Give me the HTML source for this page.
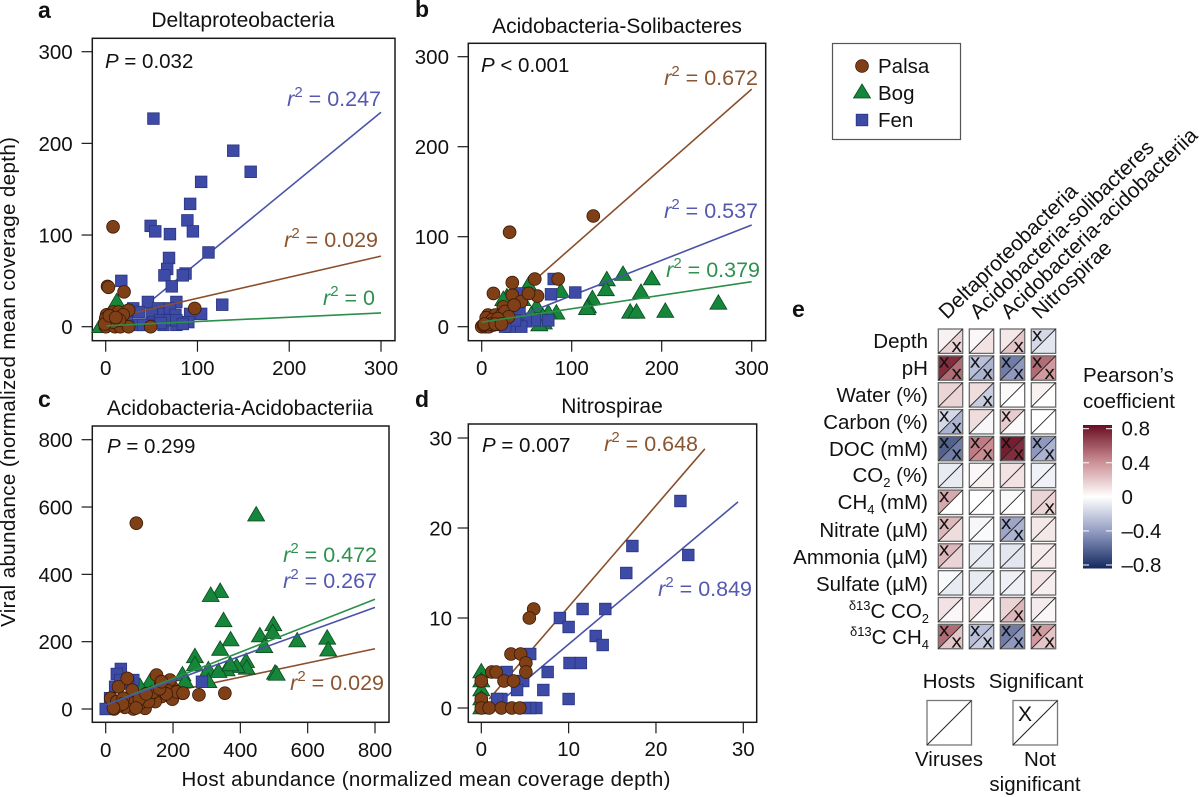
<!DOCTYPE html>
<html lang="en">
<head>
<meta charset="utf-8">
<title>Viral and host abundance</title>
<style>
html,body{margin:0;padding:0;background:#fff;}
svg{display:block;font-family:"Liberation Sans",Arial,sans-serif;font-size:20.5px;fill:#111;}
.ttl{font-size:21px;text-anchor:middle;}
.let{font-size:23px;font-weight:bold;}
.tk{font-size:20.5px;}
.sup{font-size:13px;}
.r2{font-size:21.5px;}
.r2 .sup{font-size:15px;}
.blue{fill:#5558b0;}.brown{fill:#8a5530;}.green{fill:#2f9150;}
</style>
</head>
<body>
<svg id="figure" xmlns="http://www.w3.org/2000/svg" width="1200" height="797" viewBox="0 0 1200 797">
<rect x="0" y="0" width="1200" height="797" fill="#fff"/>

<text class="let" x="38" y="18">a</text>
<text class="let" x="415" y="17">b</text>
<text class="let" x="38" y="407">c</text>
<text class="let" x="415" y="407">d</text>
<text class="let" x="792" y="317">e</text>

<text class="ttl" x="243" y="27">Deltaproteobacteria</text>
<text class="ttl" x="617" y="33">Acidobacteria-Solibacteres</text>
<text class="ttl" x="240" y="415">Acidobacteria-Acidobacteriia</text>
<text class="ttl" x="612" y="413">Nitrospirae</text>

<text x="15" y="382" transform="rotate(-90 15 382)" text-anchor="middle" font-size="20.5" textLength="490">Viral abundance (normalized mean coverage depth)</text>
<text x="426" y="786" text-anchor="middle" font-size="20.5" textLength="489">Host abundance (normalized mean coverage depth)</text>

<g id="plots"></g>

<g>
<text x="105" y="68"><tspan font-style="italic">P</tspan> = 0.032</text>
<text x="481" y="72"><tspan font-style="italic">P</tspan> &lt; 0.001</text>
<text x="107" y="453"><tspan font-style="italic">P</tspan> = 0.299</text>
<text x="482" y="452"><tspan font-style="italic">P</tspan> = 0.007</text>
</g>

<g text-anchor="end" class="r2">
<text class="blue" x="381" y="106"><tspan font-style="italic">r</tspan><tspan class="sup" dy="-9">2</tspan><tspan dy="9"> = 0.247</tspan></text>
<text class="brown" x="378" y="247"><tspan font-style="italic">r</tspan><tspan class="sup" dy="-9">2</tspan><tspan dy="9"> = 0.029</tspan></text>
<text class="green" x="375" y="305"><tspan font-style="italic">r</tspan><tspan class="sup" dy="-9">2</tspan><tspan dy="9"> = 0</tspan></text>
<text class="brown" x="758" y="85"><tspan font-style="italic">r</tspan><tspan class="sup" dy="-9">2</tspan><tspan dy="9"> = 0.672</tspan></text>
<text class="blue" x="758" y="218"><tspan font-style="italic">r</tspan><tspan class="sup" dy="-9">2</tspan><tspan dy="9"> = 0.537</tspan></text>
<text class="green" x="760" y="277"><tspan font-style="italic">r</tspan><tspan class="sup" dy="-9">2</tspan><tspan dy="9"> = 0.379</tspan></text>
<text class="green" x="377" y="562"><tspan font-style="italic">r</tspan><tspan class="sup" dy="-9">2</tspan><tspan dy="9"> = 0.472</tspan></text>
<text class="blue" x="377" y="588"><tspan font-style="italic">r</tspan><tspan class="sup" dy="-9">2</tspan><tspan dy="9"> = 0.267</tspan></text>
<text class="brown" x="384" y="690"><tspan font-style="italic">r</tspan><tspan class="sup" dy="-9">2</tspan><tspan dy="9"> = 0.029</tspan></text>
<text class="brown" x="698" y="451"><tspan font-style="italic">r</tspan><tspan class="sup" dy="-9">2</tspan><tspan dy="9"> = 0.648</tspan></text>
<text class="blue" x="752" y="596"><tspan font-style="italic">r</tspan><tspan class="sup" dy="-9">2</tspan><tspan dy="9"> = 0.849</tspan></text>
</g>

<g>
<rect x="832.5" y="43.5" width="128" height="96" fill="#fff" stroke="#555" stroke-width="1.2"/>
<circle cx="862" cy="66" r="6.4" fill="#7f3f17" stroke="#3a1a05" stroke-width="0.8"/>
<polygon points="862,84 870.5,98 853.5,98" fill="#16863a" stroke="#0a4a20" stroke-width="0.8"/>
<rect x="856.2" y="114.2" width="11.6" height="11.6" fill="#3d4aa6" stroke="#2a3580" stroke-width="0.8"/>
<text x="878" y="73">Palsa</text>
<text x="878" y="100">Bog</text>
<text x="878" y="127">Fen</text>
</g>

<g font-size="21">
<text transform="translate(947 320) rotate(-44)">Deltaproteobacteria</text>
<text transform="translate(978 320) rotate(-44)">Acidobacteria-solibacteres</text>
<text transform="translate(1009 320) rotate(-44)">Acidobacteria-acidobacteriia</text>
<text transform="translate(1040 320) rotate(-44)">Nitrospirae</text>
</g>

<g text-anchor="end">
<text x="928" y="348">Depth</text>
<text x="928" y="375">pH</text>
<text x="928" y="402">Water (%)</text>
<text x="928" y="429">Carbon (%)</text>
<text x="928" y="456">DOC (mM)</text>
<text x="928" y="482">CO<tspan class="sup" font-size="13" dy="5">2</tspan><tspan dy="-5"> (%)</tspan></text>
<text x="928" y="509">CH<tspan class="sup" dy="5">4</tspan><tspan dy="-5"> (mM)</tspan></text>
<text x="928" y="537">Nitrate (µM)</text>
<text x="928" y="564">Ammonia (µM)</text>
<text x="928" y="591">Sulfate (µM)</text>
<text x="929" y="618"><tspan class="sup" dy="-8">δ13</tspan><tspan dy="8">C CO</tspan><tspan class="sup" dy="5">2</tspan></text>
<text x="929" y="644"><tspan class="sup" dy="-8">δ13</tspan><tspan dy="8">C CH</tspan><tspan class="sup" dy="5">4</tspan></text>
</g>

<g id="heatmap"></g>

<text x="1083" y="382">Pearson’s</text>
<text x="1083" y="408">coefficient</text>
<defs>
<linearGradient id="cbGrad" x1="0" y1="0" x2="0" y2="1">
<stop offset="0" stop-color="#6a0d22"/>
<stop offset="0.25" stop-color="#c98c91"/>
<stop offset="0.5" stop-color="#ffffff"/>
<stop offset="0.75" stop-color="#8f99c0"/>
<stop offset="1" stop-color="#12295f"/>
</linearGradient>
</defs>
<g id="colorbar">
<rect x="1083" y="425" width="29" height="143.5" fill="url(#cbGrad)"/>
</g>

<g>
<text x="949" y="688" text-anchor="middle">Hosts</text>
<text x="1036" y="688" text-anchor="middle">Significant</text>
<rect x="927" y="700.5" width="44.5" height="44.5" fill="#fff" stroke="#777" stroke-width="1.3"/>
<line x1="927" y1="745" x2="971.5" y2="700.5" stroke="#222" stroke-width="1"/>
<rect x="1013" y="700.5" width="44.5" height="44.5" fill="#fff" stroke="#777" stroke-width="1.3"/>
<line x1="1013" y1="745" x2="1057.5" y2="700.5" stroke="#222" stroke-width="1"/>
<text x="1025" y="721" text-anchor="middle" font-size="21">X</text>
<text x="949" y="766" text-anchor="middle">Viruses</text>
<text x="1040" y="766" text-anchor="middle">Not</text>
<text x="1035" y="791" text-anchor="middle">significant</text>
</g>
</svg>

<script>
// ----- Panel a data -----
const aFenX = [52,139,158,104,92,89,95,49,54,70,112,69,67,64,87,84,72,17,127,46,77,104,92,30,36,57,63,70,76,50,90,77,63,52,32,37,59,70,77,23,45,60,84,41];
const aFenY = [227,192,169,158,134,116,104,110,104,101,81,75,63,56,58,56,44,50,24,27,27,14,14,20,16,20,14,20,13,14,5,2,2,5,2,2,7,7,7,7,2,4,3,2];
const aBogX = [12,-6,2,8];
const aBogY = [27,0,4,10];
const aPalsaX = [8,2,3,20,97,49,8,14,25,19,1,0,2,5,0,10,16,25,8,15,-1,4,11];
const aPalsaY = [109,44,43,38,20,0,16,16,18,13,13,9,5,2,0,0,0,0,5,7,3,12,10];
const aFenLineX = [15,300];
const aFenLineY = [0,234];
const aPalsaLineX = [0,300];
const aPalsaLineY = [8,77];
const aBogLineX = [1,300];
const aBogLineY = [1,15];

// ----- Panel b data -----
const bPalsaX = [31,124,85,59,34,13,34,62,44,52,24,7,15,22,6,0,4,8,13,20,26,2,10,17,30,36,5,12,18,10,3,15,22];
const bPalsaY = [105,123,53,53,49,37,35,34,28,37,22,13,13,13,6,0,0,0,2,7,17,2,4,3,11,24,10,8,9,3,3,3,3];
const bBogX = [263,204,165,172,189,177,157,139,138,123,118,117,88,83,74,69,52,61,28,68,39,24,55,45,64];
const bBogY = [26,17,16,16,53,38,58,52,41,31,22,20,39,15,15,4,46,22,33,11,20,30,13,30,2];
const bFenX = [104,80,77,74,59,49,40,44,31,42,42,37,20,26];
const bFenY = [38,53,36,7,7,6,2,0,0,37,18,7,2,0];
const bPalsaLineX = [0,300];
const bPalsaLineY = [0,264];
const bFenLineX = [17,300];
const bFenLineY = [2,113];
const bBogLineX = [0,300];
const bBogLineY = [5,50];

// ----- Panel c data -----
const cPalsaX = [91,354,277,198,228,196,191,164,151,166,147,117,82,102,77,57,25,15,38,64,79,132,181,211,33,52,127,40,100,140,180,120,160,90,50,23,230,166];
const cPalsaY = [552,47,42,29,47,66,86,76,101,37,22,2,0,17,17,5,0,32,66,91,56,42,56,51,22,32,22,10,30,50,45,45,60,3,15,3,47,81];
const cBogX = [447,340,312,350,371,340,498,496,458,471,569,658,661,503,508,265,265,417,419,389,359,305,335,228,236,305,132,102,370];
const cBogY = [576,349,337,262,205,177,250,227,217,185,202,210,175,106,103,155,131,141,121,126,116,116,111,101,81,81,81,66,131];
const cFenX = [45,33,82,28,13,0,286,67,43];
const cFenY = [119,104,86,66,32,0,81,76,86];
const cBogLineX = [0,800];
const cBogLineY = [12,326];
const cFenLineX = [0,800];
const cFenLineY = [12,302];
const cPalsaLineX = [0,800];
const cPalsaLineY = [10,179];

// ----- Panel d data -----
const dFenX = [22.8,23.7,17.3,16.6,11.6,14.2,9,10,13.1,13.9,10.1,11.4,7.6,7.1,10,5.6,2.9,4.8,4.1,2.3,1.8,6.3,5.6,5];
const dFenY = [23,17,18,15,11,11,10,9,8,7,5,5,4,2,1,6,4,3,2,1,1,0,0,0];
const dBogX = [0,0,0,0,0];
const dBogY = [4,3,2,1,0];
const dPalsaX = [6,5.5,3.4,4.5,5.1,5.1,1.2,1.7,0,2.6,3.7,0,0,0.9,2.3,3.5,4.4];
const dPalsaY = [11,10,6,6,5,4,4,4,3,3,3,1,0,0,0,0,0];
const dPalsaLineX = [0.9,25.6];
const dPalsaLineY = [1,28.8];
const dFenLineX = [2.9,29.4];
const dFenLineY = [1.3,22.9];

// ----- Axis tick labels -----
const abTicks = [0,100,200,300];
const cTicks = [0,200,400,600,800];
const dTicks = [0,10,20,30];

// ----- Heatmap data: one row per environmental variable, one column per taxon -----
const hostCorr = [
 [0.05,0.03,0.08,-0.15],
 [0.7,-0.25,-0.5,0.5],
 [0.15,0.12,0.02,0.05],
 [-0.15,0.12,0.18,0],
 [-0.6,0.45,0.75,-0.4],
 [-0.08,0.03,0.1,-0.05],
 [0.3,0,-0.02,0.15],
 [0.25,-0.03,-0.35,0.08],
 [0.25,-0.08,-0.1,0.07],
 [-0.02,-0.08,-0.06,0.1],
 [0.1,0.1,0.15,0.07],
 [0.5,-0.25,-0.5,0.35]
];
const virusCorr = [
 [0.15,0.1,0.2,-0.1],
 [0.5,-0.3,-0.4,0.35],
 [0.15,-0.2,0,0],
 [-0.3,-0.03,0.02,0],
 [-0.5,0.4,0.7,-0.3],
 [-0.08,0.05,0.1,-0.05],
 [0,0,0,0.15],
 [0.12,-0.02,-0.3,0.08],
 [0.15,-0.08,-0.1,0.07],
 [-0.08,-0.08,-0.06,0.06],
 [0.03,0.02,0.25,0.03],
 [0.2,-0.2,-0.4,0.2]
];
const hostSig = [
 [0,0,0,1],[1,1,1,1],[0,0,0,0],[1,0,1,0],[1,1,1,1],[0,0,0,0],
 [1,0,0,0],[1,0,1,0],[1,0,0,0],[0,0,0,0],[0,0,0,0],[1,1,1,1]
];
const virusSig = [
 [1,0,1,0],[1,1,1,1],[0,1,0,0],[1,0,0,0],[1,1,1,1],[0,0,0,0],
 [0,0,0,1],[0,0,1,0],[0,0,0,0],[0,0,0,0],[0,0,1,0],[1,1,1,1]
];
const colorbarTicks = [0.8,0.4,0,-0.4,-0.8];

const NS = 'http://www.w3.org/2000/svg';
function make(parent, tag, attrs) {
  const e = document.createElementNS(NS, tag);
  for (const k in attrs) e.setAttribute(k, attrs[k]);
  parent.appendChild(e);
  return e;
}
function linear(d0, r0, d1, r1) {
  return function (v) { return r0 + (v - d0) * (r1 - r0) / (d1 - d0); };
}
const PALSA = { fill: '#7f3f17', edge: '#3a1a05', line: '#8a4f2a' };
const BOG = { fill: '#16863a', edge: '#0a4a20', line: '#2c8f4a' };
const FEN = { fill: '#3d4aa6', edge: '#2a3580', line: '#4a52a8' };

function drawCircles(g, xs, ys, sx, sy) {
  xs.forEach(function (x, i) {
    const m = make(g, 'circle', { cx: sx(x), cy: sy(ys[i]), r: 6.4, fill: PALSA.fill, stroke: PALSA.edge, 'stroke-width': 0.8 });
    
    
  });
}
function drawSquares(g, xs, ys, sx, sy) {
  xs.forEach(function (x, i) {
    const m = make(g, 'rect', { x: sx(x) - 5.8, y: sy(ys[i]) - 5.8, width: 11.6, height: 11.6, fill: FEN.fill, stroke: FEN.edge, 'stroke-width': 0.8 });
    
    
  });
}
function drawTriangles(g, xs, ys, sx, sy) {
  xs.forEach(function (x, i) {
    const cx = sx(x), cy = sy(ys[i]);
    const pts = cx + ',' + (cy - 8.6) + ' ' + (cx + 8.5) + ',' + (cy + 5.9) + ' ' + (cx - 8.5) + ',' + (cy + 5.9);
    const m = make(g, 'polygon', { points: pts, fill: BOG.fill, stroke: BOG.edge, 'stroke-width': 0.8 });
    
    
  });
}
function drawLine(g, xs, ys, sx, sy, color, name) {
  const m = make(g, 'line', { x1: sx(xs[0]), y1: sy(ys[0]), x2: sx(xs[1]), y2: sy(ys[1]), stroke: color, 'stroke-width': 1.6 });
  
  
}
function drawFrame(g, box, xTicks, yTicks, sx, sy, xLabelY, yLabelX, yTickLen) {
  const fr = make(g, 'rect', { x: box[0], y: box[1], width: box[2] - box[0], height: box[3] - box[1], fill: '#fff', stroke: '#1a1a1a', 'stroke-width': 1.5 });
  
  
  xTicks.forEach(function (v) {
    const t = make(g, 'line', { x1: sx(v), y1: box[3], x2: sx(v), y2: box[3] + 11, stroke: '#1a1a1a', 'stroke-width': 1.2 });
    
    
    const l = make(g, 'text', { x: sx(v), y: xLabelY, 'text-anchor': 'middle', 'class': 'tk' });
    
    
    l.textContent = v;
  });
  yTicks.forEach(function (v) {
    const t = make(g, 'line', { x1: box[0] - yTickLen, y1: sy(v), x2: box[0], y2: sy(v), stroke: '#1a1a1a', 'stroke-width': 1.2 });
    
    
    const l = make(g, 'text', { x: yLabelX, y: sy(v) + 7.5, 'text-anchor': 'end', 'class': 'tk' });
    
    
    l.textContent = v;
  });
}

const plots = document.getElementById('plots');

// Panel a
(function () {
  const g = make(plots, 'g', {});
  
  
  const sx = linear(0, 105.7, 300, 381), sy = linear(0, 326.7, 300, 51.7);
  drawFrame(g, [92.3, 38.3, 395, 340.7], abTicks, abTicks, sx, sy, 375, 72.7, 10.7);
  drawLine(g, aFenLineX, aFenLineY, sx, sy, FEN.line, 'panel-a-fen-fit');
  drawTriangles(g, aBogX, aBogY, sx, sy);
  drawSquares(g, aFenX, aFenY, sx, sy);
  drawLine(g, aPalsaLineX, aPalsaLineY, sx, sy, PALSA.line, 'panel-a-palsa-fit');
  drawCircles(g, aPalsaX, aPalsaY, sx, sy);
  drawLine(g, aBogLineX, aBogLineY, sx, sy, BOG.line, 'panel-a-bog-fit');
})();

// Panel b
(function () {
  const g = make(plots, 'g', {});
  
  
  const sx = linear(0, 481.7, 300, 751.7), sy = linear(0, 326.7, 300, 56.7);
  drawFrame(g, [468.3, 43.3, 765.7, 340.7], abTicks, abTicks, sx, sy, 375, 449, 10.7);
  drawLine(g, bPalsaLineX, bPalsaLineY, sx, sy, PALSA.line, 'panel-b-palsa-fit');
  drawTriangles(g, bBogX, bBogY, sx, sy);
  drawLine(g, bFenLineX, bFenLineY, sx, sy, FEN.line, 'panel-b-fen-fit');
  drawSquares(g, bFenX, bFenY, sx, sy);
  drawCircles(g, bPalsaX, bPalsaY, sx, sy);
  drawLine(g, bBogLineX, bBogLineY, sx, sy, BOG.line, 'panel-b-bog-fit');
})();

// Panel c
(function () {
  const g = make(plots, 'g', {});
  
  
  const sx = linear(0, 105.7, 800, 375), sy = linear(0, 709, 800, 439.7);
  drawFrame(g, [92.3, 426, 389, 722.3], cTicks, cTicks, sx, sy, 757, 72.7, 10.7);
  drawLine(g, cPalsaLineX, cPalsaLineY, sx, sy, PALSA.line, 'panel-c-palsa-fit');
  drawTriangles(g, cBogX, cBogY, sx, sy);
  drawSquares(g, cFenX, cFenY, sx, sy);
  drawCircles(g, cPalsaX, cPalsaY, sx, sy);
  drawLine(g, cBogLineX, cBogLineY, sx, sy, BOG.line, 'panel-c-bog-fit');
  drawLine(g, cFenLineX, cFenLineY, sx, sy, FEN.line, 'panel-c-fen-fit');
})();

// Panel d
(function () {
  const g = make(plots, 'g', {});
  
  
  const sx = linear(0, 481.3, 30, 743.3), sy = linear(0, 708, 30, 438);
  drawFrame(g, [468.3, 424, 756.7, 722.3], dTicks, dTicks, sx, sy, 756, 452, 10.7);
  drawLine(g, dPalsaLineX, dPalsaLineY, sx, sy, PALSA.line, 'panel-d-palsa-fit');
  drawLine(g, dFenLineX, dFenLineY, sx, sy, FEN.line, 'panel-d-fen-fit');
  drawTriangles(g, dBogX, dBogY, sx, sy);
  drawSquares(g, dFenX, dFenY, sx, sy);
  drawCircles(g, dPalsaX, dPalsaY, sx, sy);
})();

// Heatmap
const colStops = [[-0.8,18,41,95],[-0.4,143,153,192],[0,255,255,255],[0.4,201,140,145],[0.8,106,13,34]];
function corrColor(v) {
  const c = Math.max(-0.8, Math.min(0.8, v));
  for (let i = 0; i < colStops.length - 1; i++) {
    const a = colStops[i], b = colStops[i + 1];
    if (c <= b[0]) {
      const t = (c - a[0]) / (b[0] - a[0]);
      return 'rgb(' + Math.round(a[1] + t * (b[1] - a[1])) + ',' + Math.round(a[2] + t * (b[2] - a[2])) + ',' + Math.round(a[3] + t * (b[3] - a[3])) + ')';
    }
  }
  return 'rgb(106,13,34)';
}
const heat = document.getElementById('heatmap');
const cellSize = 24.4;
function colX(c) { return 938.3 + c * 31; }
function rowY(r) { return 329 + r * 26.85; }
hostCorr.forEach(function (row, r) {
  row.forEach(function (hv, c) {
    const x = colX(c), y = rowY(r), s = cellSize;
    const cell = make(heat, 'g', {});
    
    
    const up = make(cell, 'polygon', { points: x + ',' + y + ' ' + (x + s) + ',' + y + ' ' + x + ',' + (y + s), fill: corrColor(hv) });
    
    
    const low = make(cell, 'polygon', { points: (x + s) + ',' + y + ' ' + (x + s) + ',' + (y + s) + ' ' + x + ',' + (y + s), fill: corrColor(virusCorr[r][c]) });
    
    
    const frame = make(cell, 'rect', { x: x, y: y, width: s, height: s, fill: 'none', stroke: '#6a6a6a', 'stroke-width': 1.3 });
    
    
    const diag = make(cell, 'line', { x1: x, y1: y + s, x2: x + s, y2: y, stroke: '#222', 'stroke-width': 0.9 });
    
    
    if (hostSig[r][c]) {
      const hx = make(cell, 'text', { x: x + 5.8, y: y + 11.8, 'text-anchor': 'middle', 'font-size': 15, stroke: '#111', 'stroke-width': 0.35 });
      
      
      hx.textContent = 'X';
    }
    if (virusSig[r][c]) {
      const vx = make(cell, 'text', { x: x + 18.3, y: y + 23.2, 'text-anchor': 'middle', 'font-size': 15, stroke: '#111', 'stroke-width': 0.35 });
      
      
      vx.textContent = 'X';
    }
  });
});

// Colorbar ticks and labels
const cbar = document.getElementById('colorbar');
const cbScale = linear(0.8, 428.7, -0.8, 565);
colorbarTicks.forEach(function (v) {
  const y = cbScale(v);
  if (v !== 0) {
    const t1 = make(cbar, 'line', { x1: 1083, y1: y, x2: 1089, y2: y, stroke: '#fff', 'stroke-width': 1 });
    
    
    const t2 = make(cbar, 'line', { x1: 1106, y1: y, x2: 1112, y2: y, stroke: '#fff', 'stroke-width': 1 });
    
    
  }
  const l = make(cbar, 'text', { x: 1121.5, y: y + 7 });
  
  
  l.textContent = v < 0 ? '\u2013' + Math.abs(v) : String(v);
});
</script>
</body>
</html>
